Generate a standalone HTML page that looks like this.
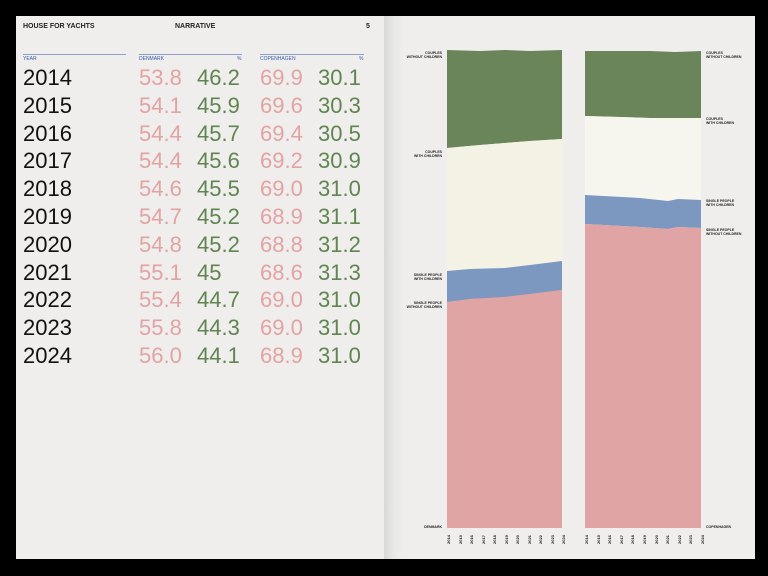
<!DOCTYPE html>
<html><head><meta charset="utf-8"><style>
*{margin:0;padding:0;box-sizing:border-box}
body{width:768px;height:576px;background:#000;position:relative;overflow:hidden;font-family:"Liberation Sans",Arial,sans-serif}
.pg{position:absolute;background:#efeeed}
.t{position:absolute;white-space:nowrap;line-height:1}
.h{font-size:7px;font-weight:bold;color:#222}
.big{font-size:22px}
.lab{font-size:5px;color:#3a5aa8}
.sm{position:absolute;font-size:3.5px;font-weight:bold;color:#222;line-height:1.2;text-align:right;white-space:nowrap}
.yr{position:absolute;font-size:4px;font-weight:bold;color:#222;transform:rotate(-90deg);transform-origin:left top;white-space:nowrap}
</style></head><body>
<div class="pg" style="left:16px;top:16px;width:368px;height:543px"></div>
<div class="pg" style="left:384px;top:16px;width:371px;height:543px;background:linear-gradient(90deg,#d8d8d7 0px,#e9e9e8 10px,#efeeed 20px,#efeeed 100%)"></div>
<div class="t h" style="left:23px;top:23px">HOUSE FOR YACHTS</div>
<div class="t h" style="left:175px;top:23px">NARRATIVE</div>
<div class="t h" style="left:366px;top:23px">5</div>
<div style="position:absolute;left:23px;top:54px;width:103px;height:1px;background:#8ea0cc"></div>
<div style="position:absolute;left:139px;top:54px;width:103px;height:1px;background:#8ea0cc"></div>
<div style="position:absolute;left:260px;top:54px;width:104px;height:1px;background:#8ea0cc"></div>
<div class="t lab" style="left:23px;top:57px">YEAR</div>
<div class="t lab" style="left:139px;top:57px">DENMARK</div>
<div class="t lab" style="left:237px;top:57px">%</div>
<div class="t lab" style="left:260px;top:57px">COPENHAGEN</div>
<div class="t lab" style="left:359px;top:57px">%</div>
<div id="rows"></div>
<script>
var d=[[2014,"53.8","46.2","69.9","30.1"],[2015,"54.1","45.9","69.6","30.3"],[2016,"54.4","45.7","69.4","30.5"],[2017,"54.4","45.6","69.2","30.9"],[2018,"54.6","45.5","69.0","31.0"],[2019,"54.7","45.2","68.9","31.1"],[2020,"54.8","45.2","68.8","31.2"],[2021,"55.1","45","68.6","31.3"],[2022,"55.4","44.7","69.0","31.0"],[2023,"55.8","44.3","69.0","31.0"],[2024,"56.0","44.1","68.9","31.0"]];
var h="";d.forEach(function(r,i){var y=67+i*27.8;
h+='<div class="t big" style="left:23px;top:'+y+'px;color:#111">'+r[0]+'</div>';
h+='<div class="t big" style="left:139px;top:'+y+'px;color:#e3a3a3">'+r[1]+'</div>';
h+='<div class="t big" style="left:197px;top:'+y+'px;color:#5f8550">'+r[2]+'</div>';
h+='<div class="t big" style="left:260px;top:'+y+'px;color:#e3a3a3">'+r[3]+'</div>';
h+='<div class="t big" style="left:318px;top:'+y+'px;color:#5f8550">'+r[4]+'</div>';});
document.getElementById("rows").innerHTML=h;
</script>
<svg style="position:absolute;left:0;top:0" width="768" height="576">
<rect x="447" y="280" width="115" height="248" fill="#e0a4a4"/>
<polygon points="447,50 480,51 505,50 530,51 562,50 562,139 530,141 505,143 480,145 447,148" fill="#6a855a"/>
<polygon points="447,148 480,145 505,143 530,141 562,139 562,261 530,265 505,268 470,269 447,271" fill="#f3f2e4"/>
<polygon points="447,271 470,269 505,268 530,265 562,261 562,290 530,294 505,297 470,299 447,302" fill="#7c98c0"/>
<polygon points="447,302 470,299 505,297 530,294 562,290 562,528 447,528" fill="#e0a4a4"/>
<polygon points="585,51 620,51 650,51 675,52 701,51 701,118 670,118 650,118 620,117 585,116" fill="#6a855a"/>
<polygon points="585,116 620,117 650,118 670,118 701,118 701,200 678,199 668,201 640,198 585,195" fill="#f7f6ee"/>
<polygon points="585,195 640,198 668,201 678,199 701,200 701,228 678,227 668,229 640,227 585,224" fill="#7c98c0"/>
<polygon points="585,224 640,227 668,229 678,227 701,228 701,528 585,528" fill="#e0a4a4"/>
</svg>
<div class="sm" style="right:326px;top:51px">COUPLES<br>WITHOUT CHILDREN</div>
<div class="sm" style="right:326px;top:150px">COUPLES<br>WITH CHILDREN</div>
<div class="sm" style="right:326px;top:273px">SINGLE PEOPLE<br>WITH CHILDREN</div>
<div class="sm" style="right:326px;top:301px">SINGLE PEOPLE<br>WITHOUT CHILDREN</div>
<div class="sm" style="right:326px;top:525px">DENMARK</div>
<div class="sm" style="left:706px;top:51px;text-align:left">COUPLES<br>WITHOUT CHILDREN</div>
<div class="sm" style="left:706px;top:117px;text-align:left">COUPLES<br>WITH CHILDREN</div>
<div class="sm" style="left:706px;top:199px;text-align:left">SINGLE PEOPLE<br>WITH CHILDREN</div>
<div class="sm" style="left:706px;top:228px;text-align:left">SINGLE PEOPLE<br>WITHOUT CHILDREN</div>
<div class="sm" style="left:706px;top:525px;text-align:left">COPENHAGEN</div>
<div id="yrs"></div>
<script>
var s="";for(var i=0;i<11;i++){var y=2014+i;
s+='<div class="yr" style="left:'+(446+i*11.5)+'px;top:544px">'+y+'</div>';
s+='<div class="yr" style="left:'+(584+i*11.6)+'px;top:544px">'+y+'</div>';}
document.getElementById("yrs").innerHTML=s;
</script>
</body></html>
